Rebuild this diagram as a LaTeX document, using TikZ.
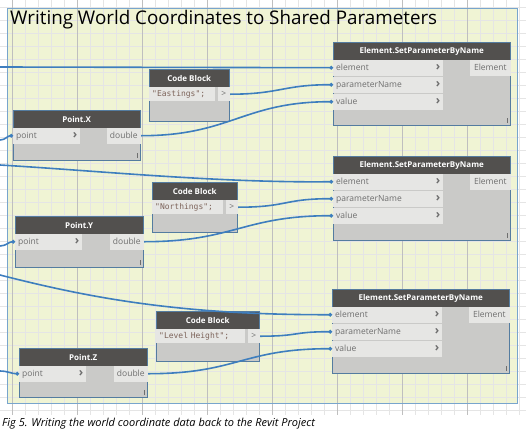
\documentclass[tikz,border=0pt]{standalone}
\usepackage{fontspec}
\setmainfont{Open Sans}
\setmonofont{DejaVu Sans Mono}
\usepackage{xcolor}
\usepackage{tikz}
\usetikzlibrary{arrows.meta}
\usetikzlibrary{positioning}

\definecolor{groupfill}{RGB}{240,244,212}
\definecolor{groupline}{RGB}{120,165,205}
\definecolor{headfill}{RGB}{82,80,78}
\definecolor{bodyfill}{RGB}{202,202,200}
\definecolor{nodeline}{RGB}{84,124,160}
\definecolor{portfill}{RGB}{230,230,228}
\definecolor{porttext}{RGB}{110,110,110}
\definecolor{codetext}{RGB}{125,100,90}
\definecolor{wirecol}{RGB}{62,126,190}

\newcommand{\chev}{{\bfseries\fontsize{12}{9}\selectfont ›}}

\begin{document}
\begin{tikzpicture}[x=1pt,y=-1pt,
    head/.style={anchor=north west,fill=headfill,text=white,font=\fontsize{8}{9}\selectfont\bfseries,inner sep=0,minimum height=17},
    body/.style={anchor=north west,fill=bodyfill,draw=nodeline,line width=1pt,inner sep=0},
    inport/.style={anchor=north west,fill=portfill,text=porttext,font=\fontsize{8.5}{9}\selectfont,inner xsep=3pt,inner ysep=0,minimum height=16,text height=7pt,text depth=2pt,align=left},
    outport/.style={anchor=north east,fill=portfill,text=porttext,font=\fontsize{8.5}{9}\selectfont,inner xsep=2pt,inner ysep=0,minimum height=16},
    code/.style={anchor=north west,fill=portfill,text=codetext,font=\ttfamily\fontsize{8}{9}\selectfont,inner xsep=3pt,inner ysep=0,minimum height=14,align=left},
    grip/.style={draw=porttext,line width=0.5pt},
    wire/.style={draw=wirecol,line width=1.6pt,-{Circle[length=3.5pt]}}]
    \useasboundingbox (0,0) rectangle (526,434);

    % canvas and group
    \fill[groupfill] (7,8) rectangle (517,403);
    \foreach \gx in {-1,...,40} \draw[black!10] (12+13*\gx,0) -- (12+13*\gx,415);
    \foreach \gy in {0,...,31} \draw[black!10] (0,7+13*\gy) -- (526,7+13*\gy);
    \foreach \gx in {0,...,7} \draw[black!25] (12+65*\gx,0) -- (12+65*\gx,415);
    \draw[groupline,line width=1pt] (7,8) rectangle (517,403);
    \node(title)[anchor=west,inner sep=0,font=\fontsize{18.8}{20}\selectfont] at (10,20) {Writing World Coordinates to Shared Parameters};

    % setter nodes
    \node(e1)[body,minimum width=177,minimum height=83] at (333,42) {};
    \node(e1h)[head,minimum width=176] at ([xshift=0.5pt,yshift=-0.5pt]e1.north west) {Element.SetParameterByName};
    \node(e1a)[inport,text width=104] at ([yshift=-17.5pt]e1.north west) {element\hfill\chev};
    \node(e1b)[inport,text width=104] at ([yshift=-34.5pt]e1.north west) {parameterName\hfill\chev};
    \node(e1c)[inport,text width=104] at ([yshift=-51.5pt]e1.north west) {value\hfill\chev};
    \node(e1o)[outport,minimum width=41] at ([yshift=-17.5pt]e1.north east) {Element};
    \draw[grip] ([xshift=-4pt,yshift=3pt]e1.south east) -- ++(0,-5);

    \node(e2)[body,minimum width=177,minimum height=84] at (333,156) {};
    \node(e2h)[head,minimum width=176] at ([xshift=0.5pt,yshift=-0.5pt]e2.north west) {Element.SetParameterByName};
    \node(e2a)[inport,text width=104] at ([yshift=-17.5pt]e2.north west) {element\hfill\chev};
    \node(e2b)[inport,text width=104] at ([yshift=-34.5pt]e2.north west) {parameterName\hfill\chev};
    \node(e2c)[inport,text width=104] at ([yshift=-51.5pt]e2.north west) {value\hfill\chev};
    \node(e2o)[outport,minimum width=41] at ([yshift=-17.5pt]e2.north east) {Element};
    \draw[grip] ([xshift=-4pt,yshift=3pt]e2.south east) -- ++(0,-5);

    \node(e3)[body,minimum width=177,minimum height=84] at (332,289) {};
    \node(e3h)[head,minimum width=176] at ([xshift=0.5pt,yshift=-0.5pt]e3.north west) {Element.SetParameterByName};
    \node(e3a)[inport,text width=104] at ([yshift=-17.5pt]e3.north west) {element\hfill\chev};
    \node(e3b)[inport,text width=104] at ([yshift=-34.5pt]e3.north west) {parameterName\hfill\chev};
    \node(e3c)[inport,text width=104] at ([yshift=-51.5pt]e3.north west) {value\hfill\chev};
    \node(e3o)[outport,minimum width=41] at ([yshift=-17.5pt]e3.north east) {Element};
    \draw[grip] ([xshift=-4pt,yshift=3pt]e3.south east) -- ++(0,-5);

    % code blocks
    \node(cb1)[body,minimum width=80,minimum height=52] at (149,69) {};
    \node(cb1h)[head,minimum width=79] at ([xshift=0.5pt,yshift=-0.5pt]cb1.north west) {Code Block};
    \node(cb1t)[code,text width=60] at ([yshift=-18pt]cb1.north west) {"Eastings";};
    \node(cb1o)[outport,minimum width=12,minimum height=14] at ([yshift=-18pt]cb1.north east) {>};

    \node(cb2)[body,minimum width=85,minimum height=50] at (152,182) {};
    \node(cb2h)[head,minimum width=84] at ([xshift=0.5pt,yshift=-0.5pt]cb2.north west) {Code Block};
    \node(cb2t)[code,text width=65] at ([yshift=-18pt]cb2.north west) {"Northings";};
    \node(cb2o)[outport,minimum width=12,minimum height=14] at ([yshift=-18pt]cb2.north east) {>};

    \node(cb3)[body,minimum width=103,minimum height=50] at (156,311) {};
    \node(cb3h)[head,minimum width=102] at ([xshift=0.5pt,yshift=-0.5pt]cb3.north west) {Code Block};
    \node(cb3t)[code,text width=83] at ([yshift=-18pt]cb3.north west) {"Level Height";};
    \node(cb3o)[outport,minimum width=12,minimum height=14] at ([yshift=-18pt]cb3.north east) {>};

    % point nodes
    \node(px)[body,minimum width=127,minimum height=50] at (13,110) {};
    \node(pxh)[head,minimum width=126] at ([xshift=0.5pt,yshift=-0.5pt]px.north west) {Point.X};
    \node(pxa)[inport,text width=61] at ([yshift=-17.5pt]px.north west) {point\hfill\chev};
    \node(pxo)[outport,minimum width=34] at ([yshift=-17.5pt]px.north east) {double};
    \draw[grip] ([xshift=-4pt,yshift=3pt]px.south east) -- ++(0,-5);

    \node(py)[body,minimum width=128,minimum height=51] at (15,216) {};
    \node(pyh)[head,minimum width=127] at ([xshift=0.5pt,yshift=-0.5pt]py.north west) {Point.Y};
    \node(pya)[inport,text width=61] at ([yshift=-17.5pt]py.north west) {point\hfill\chev};
    \node(pyo)[outport,minimum width=34] at ([yshift=-17.5pt]py.north east) {double};
    \draw[grip] ([xshift=-4pt,yshift=3pt]py.south east) -- ++(0,-5);

    \node(pz)[body,minimum width=128,minimum height=49] at (19,348) {};
    \node(pzh)[head,minimum width=127] at ([xshift=0.5pt,yshift=-0.5pt]pz.north west) {Point.Z};
    \node(pza)[inport,text width=61] at ([yshift=-17.5pt]pz.north west) {point\hfill\chev};
    \node(pzo)[outport,minimum width=34] at ([yshift=-17.5pt]pz.north east) {double};
    \draw[grip] ([xshift=-4pt,yshift=3pt]pz.south east) -- ++(0,-5);

    % wires
    \coordinate(w1) at (0,67);
    \coordinate(w2) at (0,140);
    \coordinate(w3) at (0,165);
    \coordinate(w4) at (0,246);
    \coordinate(w5) at (0,275);
    \coordinate(w6) at (0,371);
    \draw[wire] (w1) -- (e1a.west);
    \draw[wire] (cb1o.east) .. controls +(50,0) and +(-50,0) .. (e1b.west);
    \draw[wire] (pxo.east) .. controls +(90,0) and +(-90,0) .. (e1c.west);
    \draw[wire] (w2) to[out=0,in=180] (pxa.west);
    \draw[wire] (w3) .. controls (100,171) and (220,183) .. (e2a.west);
    \draw[wire] (cb2o.east) .. controls +(50,0) and +(-50,0) .. (e2b.west);
    \draw[wire] (pyo.east) .. controls +(90,0) and +(-90,0) .. (e2c.west);
    \draw[wire] (w4) to[out=0,in=180] (pya.west);
    \draw[wire] (w5) .. controls (90,298) and (180,315) .. (e3a.west);
    \draw[wire] (cb3o.east) .. controls +(40,0) and +(-40,0) .. (e3b.west);
    \draw[wire] (pzo.east) .. controls +(90,0) and +(-90,0) .. (e3c.west);
    \draw[wire] (w6) to[out=0,in=180] (pza.west);

    \node(caption)[anchor=west,inner sep=0,font=\fontsize{11}{12}\selectfont\itshape] at (2,424) {Fig 5. Writing the world coordinate data back to the Revit Project};
\end{tikzpicture}
\end{document}
